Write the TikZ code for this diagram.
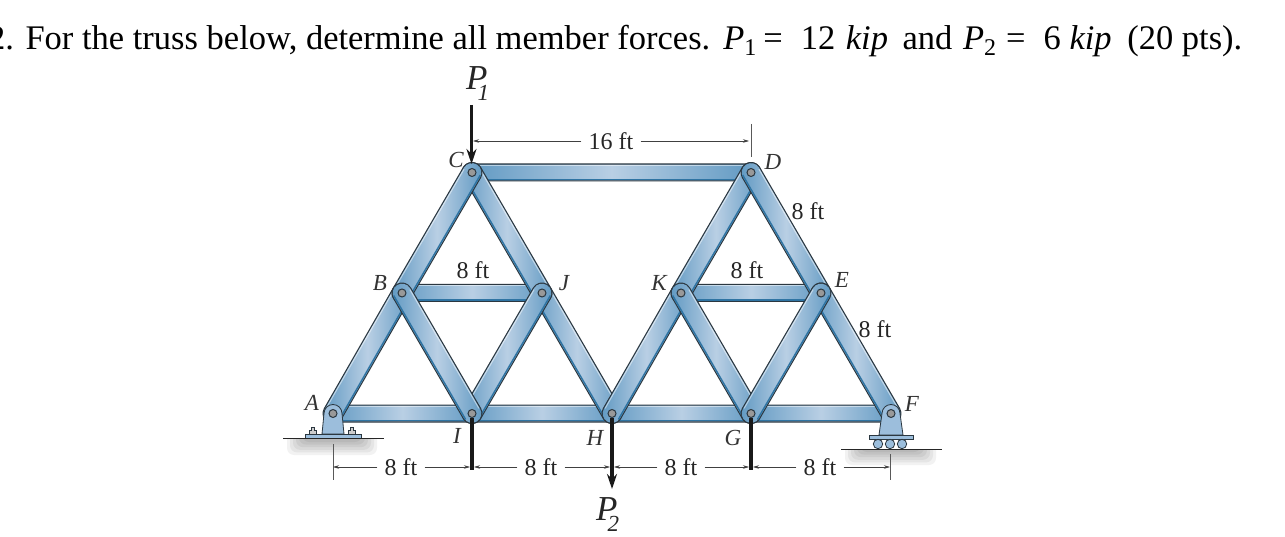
\documentclass[tikz,border=0pt]{standalone}
\usepackage{fontspec}
\setmainfont{Liberation Serif}
\usetikzlibrary{arrows.meta,calc}
\definecolor{barmid}{HTML}{B9CFE4}
\definecolor{barend}{HTML}{5D97C1}
\definecolor{barlow}{HTML}{2F74A3}
\definecolor{barline}{HTML}{2B3740}
\definecolor{plate}{HTML}{9CBEDC}
\tikzset{
  x=1pt,y=-1pt,
  lab/.style={inner sep=0pt,font=\fontsize{23}{23}\selectfont\itshape,text=black!80},
  dimt/.style={inner ysep=0pt,inner xsep=7pt,font=\fontsize{24}{24}\selectfont,text=black!85},
  sizet/.style={inner sep=0pt,font=\fontsize{24}{24}\selectfont,text=black!85},
  forcet/.style={inner sep=0pt,font=\fontsize{35}{35}\selectfont\itshape,text=black!85},
  dim/.style={draw=black!75,line width=.6pt,-{Stealth[length=6pt,width=3.5pt]}},
  tick/.style={draw=black!65,line width=.6pt},
  load/.style={draw=black!90,line width=3.2pt},
  loadarrow/.style={load,-{Stealth[length=15pt,width=10pt]}},
  pin/.style={circle,draw=barline,line width=1pt,fill=gray!80,minimum size=8pt,inner sep=0pt},
  support/.style={draw=barline,line width=.8pt,fill=plate},
  shadowpatch/.style={fill=black,opacity=.05,rounded corners=7pt},
  ground/.style={draw=black!85,line width=1pt},
}
% #1 half width of the bar, #2 and #3 end joints
\newcommand\member[3]{%
  \path let \p1=($(#3)-(#2)$),\n1={atan2(\y1,\x1)},\n2={veclen(\x1,\y1)} in
    \pgfextra{\xdef\mang{\n1}\xdef\mlen{\n2}};
  \begin{scope}[shift={(#2)},rotate=\mang]
    \pgfmathsetlengthmacro\ml{\mlen}
    \fill[barline,rounded corners=#1pt-.1pt] (-#1pt,-#1pt) rectangle (\ml+#1pt,#1pt);
    \shade[left color=barend,right color=barend,middle color=barmid,rounded corners=#1pt-1.3pt]
      (-#1pt+1.2pt,-#1pt+1.2pt) rectangle (\ml+#1pt-1.2pt,#1pt-1.2pt);
    \draw[barlow,line width=1.5pt] (-2pt,-#1pt+2pt) -- (\ml+2pt,-#1pt+2pt);
    \draw[white,opacity=.5,line width=1pt] (1pt,#1pt-2pt) -- (\ml-1pt,#1pt-2pt);
  \end{scope}}
\begin{document}
\begin{tikzpicture}
\useasboundingbox (0,0) rectangle (1285,537);
\clip (0,0) rectangle (1285,537);
\fill[white] (0,0) rectangle (1285,537);
% joints
\coordinate (A) at (333,413.5);
\coordinate (I) at (472,413.5);
\coordinate (H) at (612,413.5);
\coordinate (G) at (751,413.5);
\coordinate (F) at (891,413.5);
\coordinate (B) at (402,293);
\coordinate (J) at (542,293);
\coordinate (K) at (681,293);
\coordinate (E) at (821,293);
\coordinate (C) at (472,172.5);
\coordinate (D) at (751,172.5);
% title
\node[anchor=base west,inner sep=0pt,font=\fontsize{34.5}{34.5}\selectfont] (title) at (-12,50)
 {2. For the truss below, determine all member forces.\hspace{1.5pt} \textit{P}\raisebox{-6pt}{\fontsize{24}{24}\selectfont 1}\hspace{7pt}=\hspace{18pt}12 \hspace{2pt}\textit{kip}\hspace{6pt} and\hspace{2pt} \textit{P}\raisebox{-6pt}{\fontsize{24}{24}\selectfont 2}\hspace{10pt}=\hspace{18pt}6 \textit{kip}\hspace{7pt} (20 pts).};
% ground shadows
\foreach \s in {0,1,2,3,4,5}{
  \fill[shadowpatch] (287+3*\s,430) rectangle (377-3*\s,455-2.6*\s);
  \fill[shadowpatch] (845+3*\s,441) rectangle (936-3*\s,465-2.6*\s);
}
\fill[white] (280,425) rectangle (390,438);
\fill[white] (840,436) rectangle (945,449);
% members
\foreach \a/\b in {A/I,I/H,H/G,G/F,C/D,B/J,K/E}{\member{9}{\a}{\b}}
\foreach \a/\b in {J/H,C/J,H/K,K/D,D/E,E/F,K/G,G/E,I/J,A/B,B/C,B/I}{\member{10.5}{\a}{\b}}
% supports
\draw[support] (322,434) -- (324,413.5) arc[start angle=180,end angle=0,radius=9pt] -- (344,434) -- cycle;
\draw[support] (305,434) rectangle (361,438);
\foreach \x in {313,352}{
  \draw[barline,fill=gray!40,line width=.6pt] (\x-3.5,434) -- (\x-3.5,430.5) -- (\x-1.5,430.5) -- (\x-1.5,427) -- (\x+1.5,427) -- (\x+1.5,430.5) -- (\x+3.5,430.5) -- (\x+3.5,434) -- cycle;}
\draw[support] (879,435) -- (882,413.5) arc[start angle=180,end angle=0,radius=9pt] -- (903,435) -- cycle;
\draw[support] (869,435) rectangle (913,439);
\foreach \x in {878,890,902}{\draw[support] (\x,444) circle[radius=4.7pt];}
\draw[ground] (283,438) -- (384,438);
\draw[ground] (841,449) -- (942,449);
% pins
\foreach \p in {A,B,C,D,E,F,G,H,I,J,K}{\node[pin] (pin\p) at (\p) {};}
% loads
\coordinate (p1top) at (471.5,105);
\coordinate (p1tip) at (471.5,164);
\coordinate (p2tip) at (612,489);
\coordinate (ibot) at (472,470);
\coordinate (gbot) at (751,470);
\draw[loadarrow] (p1top) -- (p1tip);
\draw[load] (pinI.south) -- (ibot);
\draw[load] (pinG.south) -- (gbot);
\draw[loadarrow] (pinH.south) -- (p2tip);
% dims
\coordinate (dA) at (333,467);
\coordinate (dI) at (470,467);
\coordinate (dIr) at (474,467);
\coordinate (dHl) at (610,467);
\coordinate (dHr) at (614,467);
\coordinate (dGl) at (749,467);
\coordinate (dGr) at (753,467);
\coordinate (dF) at (890,467);
\coordinate (tA1) at (333,444);
\coordinate (tA2) at (333,480);
\coordinate (tF1) at (890,454);
\coordinate (tF2) at (890,480);
\coordinate (tD1) at (751,124);
\coordinate (tD2) at (751,157);
\coordinate (dC) at (473,141);
\coordinate (dD) at (749,141);
\draw[tick] (tA1) -- (tA2);
\draw[tick] (tF1) -- (tF2);
\draw[tick] (tD1) -- (tD2);
\node[dimt] (d16) at (611,141) {16 ft};
\node[dimt] (d1) at (401,467) {8 ft};
\node[dimt] (d2) at (541,467) {8 ft};
\node[dimt] (d3) at (681,467) {8 ft};
\node[dimt] (d4) at (820,467) {8 ft};
\draw[dim] (d16.west) -- (dC);
\draw[dim] (d16.east) -- (dD);
\draw[dim] (d1.west) -- (dA);
\draw[dim] (d1.east) -- (dI);
\draw[dim] (d2.west) -- (dIr);
\draw[dim] (d2.east) -- (dHl);
\draw[dim] (d3.west) -- (dHr);
\draw[dim] (d3.east) -- (dGl);
\draw[dim] (d4.west) -- (dGr);
\draw[dim] (d4.east) -- (dF);
\node[sizet] (s1) at (473,270) {8 ft};
\node[sizet] (s2) at (747,270) {8 ft};
\node[sizet] (s3) at (808,211) {8 ft};
\node[sizet] (s4) at (875,329) {8 ft};
% letters
\node[lab] (lA) at (312,403) {A};
\node[lab] (lB) at (380,283) {B};
\node[lab] (lC) at (456,160) {C};
\node[lab] (lD) at (773,162) {D};
\node[lab] (lE) at (842,280) {E};
\node[lab] (lF) at (912,404) {F};
\node[lab] (lG) at (733,438) {G};
\node[lab] (lH) at (595,438) {H};
\node[lab] (lI) at (457,436) {I};
\node[lab] (lJ) at (564,283) {J};
\node[lab] (lK) at (659,283) {K};
\node[forcet,anchor=base west] (lP1) at (466,90) {P\kern-10pt\raisebox{-11pt}{\fontsize{23}{23}\selectfont 1}};
\node[forcet,anchor=base west] (lP2) at (596,520) {P\kern-10pt\raisebox{-11pt}{\fontsize{23}{23}\selectfont 2}};
\end{tikzpicture}
\end{document}
